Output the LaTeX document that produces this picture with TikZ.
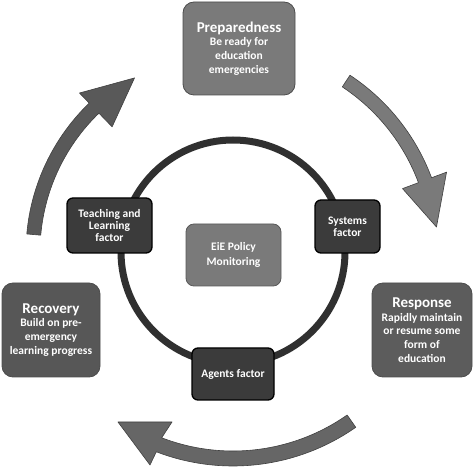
\documentclass[tikz,border=0pt]{standalone}
\usepackage{fontspec}
\setmainfont{Carlito}
\newcommand{\phasetitle}{\fontsize{15}{17}\selectfont}

\begin{document}
\begin{tikzpicture}[
    x=1pt,y=1pt,
    phase/.style={rectangle,draw=black!70,line width=0.8pt,rounded corners=11pt,align=center,text=white,font=\bfseries\fontsize{11.5}{13.8}\selectfont,inner sep=2pt},
    factor/.style={rectangle,draw=black,line width=1.3pt,fill=black!77,rounded corners=6pt,align=center,text=white,font=\bfseries\fontsize{11.5}{12}\selectfont,inner sep=2pt},
    cyclearrow/.style={draw=black!75,line width=0.6pt,line join=round}
]
    \useasboundingbox (0,0) rectangle (474,474);
    \coordinate (hub) at (233,222);

    % Cycle arrows
    \begin{scope}[shift={(hub)}]
        \filldraw[cyclearrow,fill=black!65] (175:207) arc[start angle=175,end angle=134,radius=207] -- (134:221) -- (119.5:200) -- (134:174) -- (134:193) arc[start angle=134,end angle=175,radius=193] -- cycle;
        \filldraw[cyclearrow,fill=black!52] (56.5:212) arc[start angle=56.5,end angle=20.5,radius=212] -- (20.5:228) -- (7:205) -- (20.5:181) -- (20.5:198) arc[start angle=20.5,end angle=56.5,radius=198] -- cycle;
        \filldraw[cyclearrow,fill=black!60] (-55:214) arc[start angle=-55,end angle=-111,radius=214] -- (-83,-213) -- (-115,-170) -- (-61,-170) -- (-111:199) arc[start angle=-111,end angle=-55,radius=199] -- cycle;
    \end{scope}

    % Ring
    \draw[black!81,line width=7pt] (hub) circle[radius=112];

    % Phases
    \node[phase,fill=black!52,minimum width=112pt,minimum height=93pt] (prep) at (239,425.5) {{\phasetitle Preparedness}\\Be ready for\\education\\emergencies};
    \node[phase,fill=black!64,minimum width=100pt,minimum height=94pt] (resp) at (422,144) {{\phasetitle Response}\\Rapidly maintain\\or resume some\\form of\\education};
    \node[phase,fill=black!66,minimum width=98pt,minimum height=94pt] (recov) at (51,144) {{\phasetitle Recovery}\\Build on pre-\\emergency\\learning progress};

    % Centre
    \node[phase,fill=black!52,draw=black!65,rounded corners=8pt,minimum width=95pt,minimum height=62pt,font=\bfseries\fontsize{11.5}{15}\selectfont] (eie) at (233.5,219) {EiE Policy\\Monitoring};

    % Factors
    \node[factor,minimum width=85pt,minimum height=55pt] (teach) at (109.5,248.5) {Teaching and\\Learning\\factor};
    \node[factor,minimum width=65pt,minimum height=53pt] (sys) at (347.5,247.5) {Systems\\factor};
    \node[factor,minimum width=82pt,minimum height=52pt] (agents) at (233,100) {Agents factor};
\end{tikzpicture}
\end{document}
